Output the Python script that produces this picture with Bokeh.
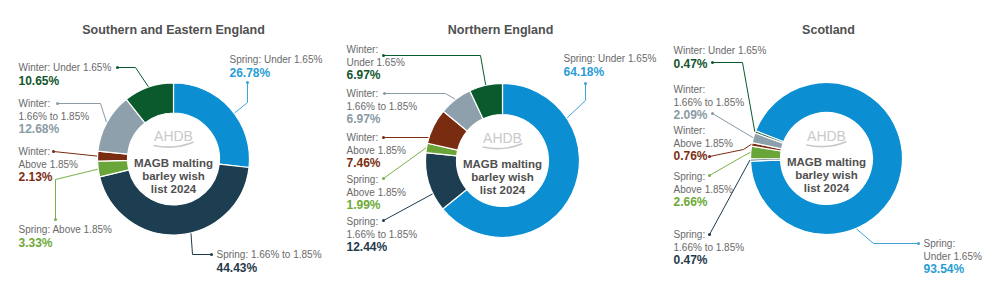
import math
from bokeh.plotting import figure
from bokeh.models import Range1d, ColumnDataSource
from bokeh.embed import file_html
from bokeh.resources import INLINE
from bokeh.core.properties import value

# ---------------- data ----------------
regions = ["Southern and Eastern England", "Northern England", "Scotland"]
categories = ["Spring: Under 1.65%", "Spring: 1.66% to 1.85%", "Spring: Above 1.85%",
              "Winter: Above 1.85%", "Winter: 1.66% to 1.85%", "Winter: Under 1.65%"]
south_east = [26.78, 44.43, 3.33, 2.13, 12.68, 10.65]
northern = [64.18, 12.44, 1.99, 7.46, 6.97, 6.97]
scotland = [93.54, 0.47, 2.66, 0.76, 2.09, 0.47]
centre_text = ["MAGB malting", "barley wish", "list 2024"]
logo_text = "AHDB"

# ---------------- styles ----------------
W, H = 1000, 292
slice_colors = ["#0b8fd2", "#1d3e51", "#6aa539", "#7a2c10", "#8da0ab", "#0b5a2d"]
pct_colors = ["#2a9dd6", "#1f3a4c", "#6ea935", "#7c2e12", "#8a9ba5", "#13552d"]
line_colors = ["#3ea2d8", "#1f3a4c", "#7ab04a", "#7a2c10", "#8a9ba5", "#0b5a2d"]
FONT = "Liberation Sans"
label_grey = "#6a6a6a"
title_grey = "#505050"


def Y(sy):
    return H - sy


# per-chart layout: centre (screen px), radii, start angle (deg, math), label blocks
# label block: (wrap, text_x, first_line_y, dot, elbow, frac)
layouts = [
    dict(cx=173, cy=158.5, ro=76, ri=46, start=90, title_x=173,
         labels=[(False, 229, 59, (247, 82), (247, 102), 0.55),
                 (False, 216, 254, (211, 254), (192, 254), 0.44),
                 (False, 18, 229, (55, 219), (55, 179), 0.5),
                 (True, 18, 151, (53, 151), None, 0.5),
                 (True, 18, 103, (57, 103), (100, 103), 0.5),
                 (False, 18, 67, (117, 67), (135, 67), 0.5)]),
    dict(cx=502, cy=160, ro=77, ri=46, start=90, title_x=500,
         labels=[(False, 563, 58, (585, 83), (585, 100), 0.245),
                 (True, 346, 221, (383, 220), None, 0.3),
                 (True, 346, 179, (383, 178), None, 0.5),
                 (True, 346, 137, (383, 137), None, 0.16),
                 (True, 346, 93, (384, 93), (445, 93), 0.5),
                 (True, 346, 49, (383, 55), (480, 55), 0.5)]),
    dict(cx=826, cy=158, ro=76, ri=46, start=158.7, title_x=828,
         labels=[(True, 923, 243, (918, 243), (873, 243), 0.67),
                 (True, 673, 234, (709, 234), None, 0.5),
                 (True, 673, 176, (709, 175), (742, 156), 0.5),
                 (True, 673, 130, (709, 156), (743, 149), 0.5),
                 (True, 673, 89, (712, 113), None, 0.5),
                 (False, 673, 50, (712, 62), (742, 62), 0.5)]),
]
series = [south_east, northern, scotland]

p = figure(width=W, height=H, x_range=Range1d(0, W), y_range=Range1d(0, H),
           output_backend="svg", toolbar_location=None, min_border=0,
           x_axis_location=None, y_axis_location=None)
p.grid.visible = False
p.outline_line_color = None
p.background_fill_color = "white"
p.border_fill_color = "white"

LINE_STEP = 12.6

for region, vals, lay in zip(regions, series, layouts):
    cx, cy = lay["cx"], Y(lay["cy"])
    total = sum(vals)
    starts, ends = [], []
    a = lay["start"]
    for v in vals:
        span = v / total * 360.0
        starts.append(a)
        ends.append(a - span)
        a -= span
    src = ColumnDataSource(dict(
        x=[cx] * len(vals), y=[cy] * len(vals),
        start=[math.radians(s) for s in starts],
        end=[math.radians(e) for e in ends],
        color=slice_colors))
    p.annular_wedge(x="x", y="y", inner_radius=lay["ri"], outer_radius=lay["ro"],
                    start_angle="start", end_angle="end", direction="clock",
                    fill_color="color", line_color="white", line_width=1.2, source=src)

    # title
    p.text(x=[lay["title_x"]], y=[Y(29)], text=[region], text_font=value(FONT),
           text_font_size="12.5px", text_font_style="bold", text_color=title_grey,
           text_align="center", text_baseline="middle")

    # logo
    p.text(x=[cx], y=[cy + 23], text=[logo_text], text_font=value(FONT),
           text_font_size="14px", text_color="#c9c9c9",
           text_align="center", text_baseline="middle")
    p.quadratic(x0=[cx - 20], y0=[cy + 13.5], x1=[cx + 20], y1=[cy + 17],
                cx=[cx + 2], cy=[cy + 9], line_color="#c9c9c9", line_width=1.6)

    # centre text
    for i, t in enumerate(centre_text):
        p.text(x=[cx], y=[cy - 3.5 - i * 13], text=[t], text_font=value(FONT),
               text_font_size="11.5px", text_font_style="bold", text_color="#505050",
               text_align="center", text_baseline="middle")

    # labels and leaders
    for k, (cat, v) in enumerate(zip(categories, vals)):
        wrap, tx, ty, dot, elbow, frac = lay["labels"][k]
        if wrap:
            head, tail = cat.split(": ")
            lines = [head + ":", tail]
        else:
            lines = [cat]
        for j, ln in enumerate(lines):
            p.text(x=[tx], y=[Y(ty + j * LINE_STEP)], text=[ln], text_font=value(FONT),
                   text_font_size="10px", text_color=label_grey,
                   text_align="left", text_baseline="middle")
        p.text(x=[tx], y=[Y(ty + len(lines) * LINE_STEP + 0.5)], text=[f"{v:.2f}%"],
               text_font=value(FONT), text_font_size="12px", text_font_style="bold",
               text_color=pct_colors[k], text_align="left", text_baseline="middle")
        ang = math.radians(starts[k] - frac * (starts[k] - ends[k]))
        axp = cx + (lay["ro"] + 0.5) * math.cos(ang)
        ayp = cy + (lay["ro"] + 0.5) * math.sin(ang)
        xs = [dot[0]]
        ys = [Y(dot[1])]
        if elbow is not None:
            xs.append(elbow[0])
            ys.append(Y(elbow[1]))
        xs.append(axp)
        ys.append(ayp)
        p.line(x=xs, y=ys, line_color=line_colors[k], line_width=1)
        p.scatter(x=[dot[0]], y=[Y(dot[1])], size=3, marker="circle",
                  fill_color=line_colors[k], line_color=None)

open("out.html", "w").write(file_html(p, INLINE))
